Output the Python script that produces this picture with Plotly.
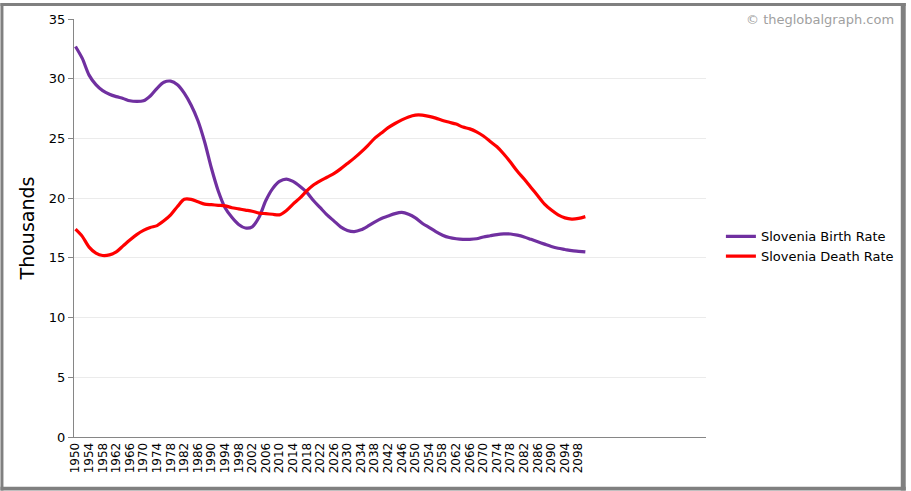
import plotly.graph_objects as go

# Years (every 2 years) and values in thousands
years = list(range(1950, 2101, 2))

birth_rate = [
    32.7, 31.7, 30.3, 29.5, 29.0, 28.7, 28.5, 28.35, 28.15, 28.1,
    28.15, 28.55, 29.2, 29.7, 29.8, 29.5, 28.8, 27.8, 26.5, 24.7,
    22.5, 20.6, 19.2, 18.4, 17.8, 17.5, 17.6, 18.4, 19.8, 20.8,
    21.4, 21.6, 21.4, 21.0, 20.5, 19.8, 19.2, 18.6, 18.1, 17.6,
    17.3, 17.2, 17.35, 17.65, 18.0, 18.3, 18.5, 18.7, 18.8, 18.65,
    18.35, 17.9, 17.55, 17.2, 16.9, 16.7, 16.6, 16.55, 16.55, 16.6,
    16.75, 16.85, 16.95, 17.0, 17.0, 16.9, 16.75, 16.55, 16.35, 16.15,
    15.95, 15.8, 15.7, 15.6, 15.55, 15.5,
]

death_rate = [
    17.4, 16.8, 15.9, 15.4, 15.2, 15.25, 15.5, 16.0, 16.5, 16.95,
    17.3, 17.55, 17.7, 18.1, 18.6, 19.3, 19.9, 19.9, 19.7, 19.5,
    19.45, 19.4, 19.35, 19.2, 19.1, 19.0, 18.9, 18.75, 18.7, 18.65,
    18.6, 18.95, 19.5, 20.0, 20.6, 21.1, 21.45, 21.75, 22.05, 22.45,
    22.9, 23.35, 23.85, 24.4, 25.0, 25.45, 25.9, 26.25, 26.55, 26.8,
    26.95, 26.95, 26.85, 26.7, 26.5, 26.35, 26.2, 25.95, 25.8, 25.55,
    25.2, 24.75, 24.3, 23.7, 23.0, 22.25, 21.6, 20.9, 20.2, 19.5,
    19.0, 18.6, 18.35, 18.25, 18.3, 18.45,
]

tick_years = list(range(1950, 2099, 4))
tick_labels = [str(y) for y in tick_years]

fig = go.Figure()

fig.add_trace(go.Scatter(
    x=years, y=birth_rate, name='Slovenia Birth Rate', mode='lines',
    line=dict(color='#7030A0', width=3.2, shape='spline', smoothing=0.8)
))

fig.add_trace(go.Scatter(
    x=years, y=death_rate, name='Slovenia Death Rate', mode='lines',
    line=dict(color='#FF0000', width=3.2, shape='spline', smoothing=0.8)
))

# plot area in pixels: x 74..710, y 16..437
L, R, T, B = 74, 710, 16, 437
W, H = 911, 491


def px(x):
    return (x - L) / (R - L)


def py(y):
    return (B - y) / (B - T)


# grey frame around the picture
shapes = []
for x0, y0, x1, y1 in [(0, 0, 3, H), (0, 0, W, 3), (906, 0, W, H), (0, 487, W, H)]:
    shapes.append(dict(type='rect', xref='paper', yref='paper',
                       x0=px(x0), x1=px(x1), y0=py(y1), y1=py(y0),
                       fillcolor='#808080', line=dict(width=0), layer='above'))

fig.update_layout(
    width=W, height=H,
    margin=dict(l=L, r=W - R, t=T, b=H - B),
    paper_bgcolor='white', plot_bgcolor='white',
    font=dict(family='DejaVu Sans', size=12, color='black'),
    showlegend=True,
    legend=dict(x=px(725), y=py(245), xanchor='left', yanchor='middle',
                font=dict(size=13), bgcolor='rgba(0,0,0,0)', tracegroupgap=4,
                itemwidth=30),
    shapes=shapes,
    annotations=[dict(text='© theglobalgraph.com', xref='paper', yref='paper',
                      x=px(901), y=py(16), xanchor='right', yanchor='middle',
                      showarrow=False, font=dict(size=13, color='#A0A0A0'))],
)

fig.update_xaxes(
    range=[1949.56, 2135.5],
    tickmode='array', tickvals=tick_years, ticktext=tick_labels,
    tickangle=-90, tickfont=dict(size=12),
    showgrid=False, zeroline=False,
    showline=True, linecolor='#868686', linewidth=1,
)

fig.update_yaxes(
    range=[0, 35], dtick=5, tickfont=dict(size=13),
    showgrid=True, gridcolor='#EBEBEB', zeroline=False,
    showline=True, linecolor='#868686', linewidth=1,
    ticks='outside', ticklen=5, tickcolor='#868686',
    title=dict(text='Thousands', font=dict(size=19), standoff=9),
)

fig.write_html('out.html', config={'displayModeBar': False},
               post_script="document.body.style.margin='0';"
                           "document.body.style.overflow='hidden';")
